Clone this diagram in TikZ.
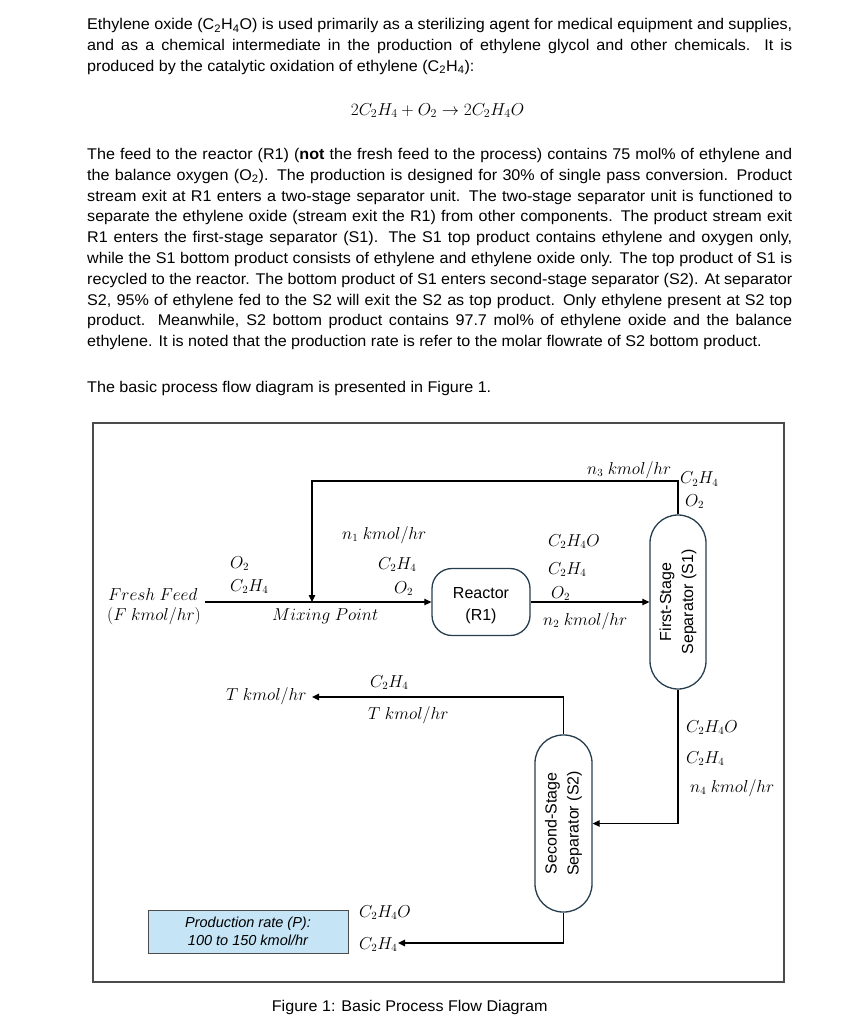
\documentclass[tikz,border=0pt]{standalone}
\usepackage{fontspec}
\setmainfont{Liberation Sans}
\newfontfamily\bodyfont{Liberation Sans}[FakeStretch=1.04]
\usetikzlibrary{arrows.meta}
\definecolor{vessel}{RGB}{38,62,78}
\definecolor{frame}{RGB}{75,75,75}
\definecolor{prodfill}{RGB}{197,228,245}
\tikzset{
  body/.style={anchor=base west, inner sep=0, font=\bodyfont\fontsize{15.5}{18}\selectfont},
  lbl/.style={anchor=base west, inner sep=0, font=\fontsize{16.3}{16}\selectfont},
  flow/.style={draw=black, line width=1.2pt, -{Triangle[length=7pt,width=6.5pt]}},
  vesselbox/.style={draw=vessel, line width=1.3pt, align=center, inner sep=0,
     font=\fontsize{16}{22}\selectfont},
  prodbox/.style={draw=frame, fill=prodfill, line width=1pt, align=center, inner sep=0,
     minimum width=200pt, minimum height=43pt, font=\itshape\fontsize{14.5}{18}\selectfont}
}
\begin{document}
\begin{tikzpicture}[x=1pt,y=-1pt]
\useasboundingbox (0,0) rectangle (842,1033);
% ---------- paragraph 1 ----------
\node[body] (t1) at (87,30) {\makebox[705pt][s]{Ethylene oxide (C\textsubscript{2}H\textsubscript{4}O) is used primarily as a sterilizing agent for medical equipment and supplies,}};
\node[body] (t2) at (87,50.7) {\makebox[705pt][s]{and as a chemical intermediate in the production of ethylene glycol and other chemicals. It is}};
\node[body] (t3) at (87,71) {produced by the catalytic oxidation of ethylene (C\textsubscript{2}H\textsubscript{4}):};
\node[anchor=base, inner sep=0, font=\fontsize{17}{17}\selectfont] (eq) at (437.5,115) {$2C_2H_4 + O_2 \rightarrow 2C_2H_4O$};
% ---------- paragraph 2 ----------
\node[body] (u1) at (87,159.5) {\makebox[705pt][s]{The feed to the reactor (R1) (\textbf{not} the fresh feed to the process) contains 75 mol\% of ethylene and}};
\node[body] (u2) at (87,180.3) {\makebox[705pt][s]{the balance oxygen (O\textsubscript{2}). The production is designed for 30\% of single pass conversion. Product}};
\node[body] (u3) at (87,201.1) {\makebox[705pt][s]{stream exit at R1 enters a two-stage separator unit. The two-stage separator unit is functioned to}};
\node[body] (u4) at (87,221.9) {\makebox[705pt][s]{separate the ethylene oxide (stream exit the R1) from other components. The product stream exit}};
\node[body] (u5) at (87,242.7) {\makebox[705pt][s]{R1 enters the first-stage separator (S1). The S1 top product contains ethylene and oxygen only,}};
\node[body] (u6) at (87,263.5) {\makebox[705pt][s]{while the S1 bottom product consists of ethylene and ethylene oxide only. The top product of S1 is}};
\node[body] (u7) at (87,284.3) {\makebox[705pt][s]{recycled to the reactor. The bottom product of S1 enters second-stage separator (S2). At separator}};
\node[body] (u8) at (87,305.1) {\makebox[705pt][s]{S2, 95\% of ethylene fed to the S2 will exit the S2 as top product. Only ethylene present at S2 top}};
\node[body] (u9) at (87,325.9) {\makebox[705pt][s]{product. Meanwhile, S2 bottom product contains 97.7 mol\% of ethylene oxide and the balance}};
\node[body] (u10) at (87,346.7) {ethylene. It is noted that the production rate is refer to the molar flowrate of S2 bottom product.};
\node[body] (u11) at (87,392.5) {The basic process flow diagram is presented in Figure 1.};
% ---------- figure frame ----------
\draw[frame, line width=1.2pt] (93,423) rectangle (784,982);
% ---------- units ----------
\node[vesselbox, rounded corners=20pt, minimum width=98pt, minimum height=67pt] (R1) at (481,602) {\rule{0pt}{19pt}Reactor\\(R1)};
\node[vesselbox, rotate=90, rounded corners=28pt, minimum width=174pt, minimum height=56pt] (S1) at (678,602) {First-Stage\\Separator (S1)};
\node[vesselbox, rotate=90, rounded corners=28pt, minimum width=177pt, minimum height=57pt] (S2) at (563.5,823.5) {Second-Stage\\Separator (S2)};
\node[prodbox] (P) at (248,931.5) {Production rate (P):\\100 to 150 kmol/hr};
% ---------- coordinates ----------
\coordinate (ff) at (205,602);
\coordinate (mix) at (312,602);
\coordinate (rtop) at (678,481);
\coordinate (Tend) at (312,697);
\coordinate (Pend) at (398,943);
% ---------- streams ----------
\draw[flow] (ff) -- (R1.west);
\draw[flow] (S1.east) -- (rtop) -| (mix);
\draw[flow] (R1.east) -- (S1.north);
\draw[flow] (S1.west) |- (S2.south);
\draw[flow] (S2.east) |- (Tend);
\draw[flow] (S2.west) |- (Pend);
% ---------- labels ----------
\node[lbl] (n3) at (587,474) {$n_3\ kmol/hr$};
\node[lbl] (s1c) at (680,483.5) {$C_2H_4$};
\node[lbl] (s1o) at (685,506) {$O_2$};
\node[lbl] (r1a) at (548,546) {$C_2H_4O$};
\node[lbl] (r1b) at (548,574) {$C_2H_4$};
\node[lbl] (r1c) at (551,598) {$O_2$};
\node[lbl] (n2) at (543,625) {$n_2\ kmol/hr$};
\node[lbl] (n1) at (342,539) {$n_1\ kmol/hr$};
\node[lbl] (m1) at (378,569) {$C_2H_4$};
\node[lbl] (m2) at (394,593) {$O_2$};
\node[lbl] (f1) at (230,568) {$O_2$};
\node[lbl] (f2) at (230,591) {$C_2H_4$};
\node[lbl] (fa) at (108,600) {$Fresh\ Feed$};
\node[lbl] (fb) at (107,620) {$(F\ kmol/hr)$};
\node[lbl] (mp) at (272,620) {$Mixing\ Point$};
\node[lbl] (tl) at (226,700) {$T\ kmol/hr$};
\node[lbl] (tc) at (370,687) {$C_2H_4$};
\node[lbl] (tk) at (368,719) {$T\ kmol/hr$};
\node[lbl] (b1) at (359,917) {$C_2H_4O$};
\node[lbl] (b2) at (359,949) {$C_2H_4$};
\node[lbl] (d1) at (686,732) {$C_2H_4O$};
\node[lbl] (d2) at (686,763) {$C_2H_4$};
\node[lbl] (n4) at (690,792) {$n_4\ kmol/hr$};
% ---------- caption ----------
\node[body, anchor=base] (cap) at (409.7,1011) {Figure 1: Basic Process Flow Diagram};
\end{tikzpicture}
\end{document}
